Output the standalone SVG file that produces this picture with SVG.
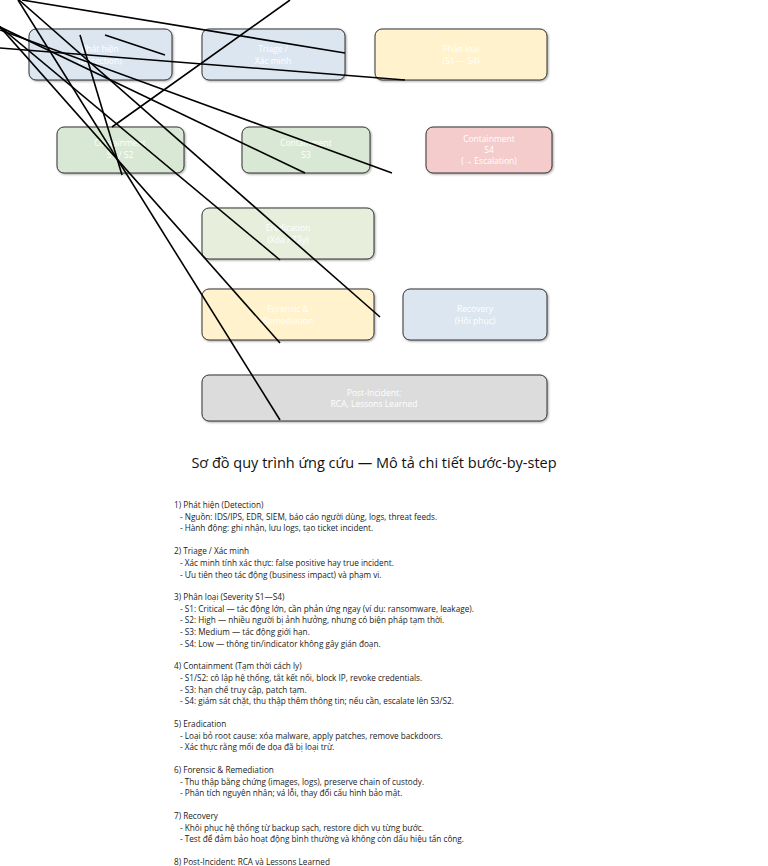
<svg xmlns="http://www.w3.org/2000/svg" width="768" height="866" viewBox="0 0 768 866">
<style>
.b{stroke:#333;stroke-width:1;filter:drop-shadow(1px 1px 1px rgba(0,0,0,0.35))}
.n text{fill:#fff;font-family:"Open Sans","Liberation Sans",sans-serif;font-size:8.5px;text-anchor:middle}
.t{font-family:"Open Sans","Liberation Sans",sans-serif;font-size:8.2px;fill:#222}
#edges line{stroke:#000;stroke-width:1.6}
</style>
<rect width="768" height="866" fill="#fff"/>
<g id="n1" class="n"><rect class="b" x="29" y="29" width="143" height="51" rx="7" fill="#dce6f0"/><text x="100" y="52">Phát hiện</text><text x="100" y="64">(Detection)</text></g>
<g id="n2" class="n"><rect class="b" x="202" y="29" width="143" height="51" rx="7" fill="#dce6f0"/><text x="273" y="52">Triage /</text><text x="273" y="64">Xác minh</text></g>
<g id="n3" class="n"><rect class="b" x="375" y="29" width="172" height="51" rx="7" fill="#fff2cc"/><text x="461" y="52">Phân loại</text><text x="461" y="64">(S1 — S4)</text></g>
<g id="n4" class="n"><rect class="b" x="57" y="127" width="127" height="46" rx="7" fill="#d9e8d4"/><text x="120" y="146">Containment</text><text x="120" y="158">S1 / S2</text></g>
<g id="n5" class="n"><rect class="b" x="242" y="127" width="128" height="46" rx="7" fill="#d9e8d4"/><text x="306" y="146">Containment</text><text x="306" y="158">S3</text></g>
<g id="n6" class="n"><rect class="b" x="426" y="127" width="126" height="46" rx="7" fill="#f4cccc"/><text x="489" y="142">Containment</text><text x="489" y="153">S4</text><text x="489" y="164">(→ Escalation)</text></g>
<g id="n7" class="n"><rect class="b" x="202" y="208" width="172" height="51" rx="7" fill="#e8eedc"/><text x="288" y="231">Eradication</text><text x="288" y="243">(Xóa / Tẩy)</text></g>
<g id="n8" class="n"><rect class="b" x="202" y="289" width="172" height="51" rx="7" fill="#fff2cc"/><text x="288" y="312">Forensic &amp;</text><text x="288" y="324">Remediation</text></g>
<g id="n9" class="n"><rect class="b" x="403" y="289" width="144" height="51" rx="7" fill="#dce6f0"/><text x="475" y="312">Recovery</text><text x="475" y="324">(Hồi phục)</text></g>
<g id="n10" class="n"><rect class="b" x="202" y="375" width="345" height="46" rx="7" fill="#dcdcdc"/><text x="374" y="396">Post-Incident:</text><text x="374" y="407">RCA, Lessons Learned</text></g>
<g id="edges">
<line x1="22" y1="0" x2="345" y2="53"/>
<line x1="105" y1="35" x2="165" y2="55"/>
<line x1="0" y1="48" x2="405" y2="80"/>
<line x1="290" y1="0" x2="112" y2="127"/>
<line x1="80" y1="35" x2="122" y2="175"/>
<line x1="0" y1="27" x2="305" y2="173"/>
<line x1="0" y1="30" x2="392" y2="173"/>
<line x1="-32" y1="0" x2="280" y2="260"/>
<line x1="19" y1="0" x2="380" y2="317"/>
<line x1="-24" y1="0" x2="280" y2="343"/>
<line x1="18" y1="0" x2="280" y2="420"/>
</g>
<text x="374" y="468" text-anchor="middle" font-family="'Open Sans','Liberation Sans',sans-serif" font-size="14.5" fill="#111">Sơ đồ quy trình ứng cứu — Mô tả chi tiết bước-by-step</text>
<g class="t">
<text x="174" y="508">1) Phát hiện (Detection)</text>
<text x="180" y="520">- Nguồn: IDS/IPS, EDR, SIEM, báo cáo người dùng, logs, threat feeds.</text>
<text x="180" y="531">- Hành động: ghi nhận, lưu logs, tạo ticket incident.</text>
<text x="174" y="554">2) Triage / Xác minh</text>
<text x="180" y="566">- Xác minh tính xác thực: false positive hay true incident.</text>
<text x="180" y="578">- Ưu tiên theo tác động (business impact) và phạm vi.</text>
<text x="174" y="600">3) Phân loại (Severity S1—S4)</text>
<text x="180" y="612">- S1: Critical — tác động lớn, cần phản ứng ngay (ví dụ: ransomware, leakage).</text>
<text x="180" y="623">- S2: High — nhiều người bị ảnh hưởng, nhưng có biện pháp tạm thời.</text>
<text x="180" y="635">- S3: Medium — tác động giới hạn.</text>
<text x="180" y="647">- S4: Low — thông tin/indicator không gây gián đoạn.</text>
<text x="174" y="669">4) Containment (Tạm thời cách ly)</text>
<text x="180" y="681">- S1/S2: cô lập hệ thống, tắt kết nối, block IP, revoke credentials.</text>
<text x="180" y="693">- S3: hạn chế truy cập, patch tạm.</text>
<text x="180" y="704">- S4: giám sát chặt, thu thập thêm thông tin; nếu cần, escalate lên S3/S2.</text>
<text x="174" y="727">5) Eradication</text>
<text x="180" y="739">- Loại bỏ root cause: xóa malware, apply patches, remove backdoors.</text>
<text x="180" y="750">- Xác thực rằng mối đe dọa đã bị loại trừ.</text>
<text x="174" y="773">6) Forensic &amp; Remediation</text>
<text x="180" y="785">- Thu thập bằng chứng (images, logs), preserve chain of custody.</text>
<text x="180" y="796">- Phân tích nguyên nhân; vá lỗi, thay đổi cấu hình bảo mật.</text>
<text x="174" y="819">7) Recovery</text>
<text x="180" y="831">- Khôi phục hệ thống từ backup sạch, restore dịch vụ từng bước.</text>
<text x="180" y="842">- Test để đảm bảo hoạt động bình thường và không còn dấu hiệu tấn công.</text>
<text x="174" y="865">8) Post-Incident: RCA và Lessons Learned</text>
</g>
</svg>
